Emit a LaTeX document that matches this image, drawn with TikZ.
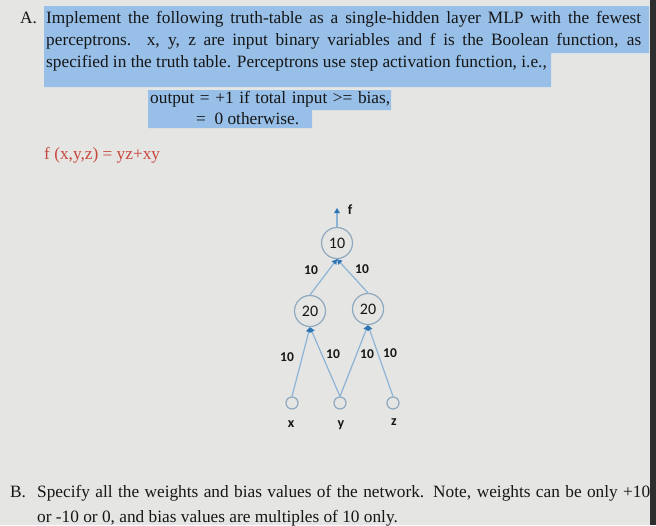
\documentclass[tikz,border=0pt]{standalone}
\usepackage{fontspec}
\setmainfont{Liberation Serif}
\newfontfamily\diagfont{Carlito}
\usetikzlibrary{arrows.meta}
\definecolor{bg}{HTML}{E5E5E3}
\definecolor{hl}{HTML}{97BFE8}
\definecolor{ink}{HTML}{161616}
\definecolor{formula}{HTML}{C8473C}
\definecolor{linecol}{HTML}{8DB3D6}
\definecolor{tipcol}{HTML}{2E75B6}
\definecolor{ringcol}{HTML}{8FA9BF}
\tikzset{
  txt/.style={anchor=base west, inner sep=0pt, text=ink, font=\fontsize{17.3}{20}\selectfont},
  neuron/.style={circle, draw=ringcol, line width=1.2pt, minimum size=31pt, inner sep=0pt, text=ink, font=\diagfont\fontsize{16}{17}\selectfont},
  inpnode/.style={circle, draw=ringcol, line width=1.2pt, minimum size=12pt, inner sep=0pt},
  conn/.style={draw=linecol, line width=1.2pt, -{Triangle[length=5pt,width=5.5pt,color=tipcol]}},
  wlabel/.style={inner sep=0pt, text=ink, font=\diagfont\bfseries\fontsize{13.5}{15}\selectfont},
  vlabel/.style={inner sep=0pt, text=ink, font=\diagfont\bfseries\fontsize{14}{15}\selectfont}
}
\begin{document}
\begin{tikzpicture}[x=1pt,y=-1pt]
\fill[bg] (0,0) rectangle (656,525);
\useasboundingbox (0,0) rectangle (656,525);
\fill[black!82] (650,0) rectangle (656,525);
% highlights
\fill[hl] (44,6) -- (649,6) -- (649,53) -- (551,53) -- (551,87) -- (44,87) -- cycle;
\fill[hl] (148,90) -- (391,90) -- (391,110) -- (312,110) -- (312,128) -- (148,128) -- cycle;
% part A text
\node[txt] (a0) at (20,23) {A.};
\node[txt] (a1) at (46,23) {\makebox[595pt][s]{Implement the following truth-table as a single-hidden layer MLP with the fewest}};
\node[txt] (a2) at (46,45) {\makebox[595pt][s]{perceptrons. x, y, z are input binary variables and f is the Boolean function, as}};
\node[txt] (a3) at (46,67) {specified in the truth table. Perceptrons use step activation function, i.e.,};
\node[txt] (o1) at (150,103) {\makebox[240pt][s]{output = +1 if total input >= bias,}};
\node[txt] (o2) at (196,124) {=\ \ 0 otherwise.};
\node[txt, text=formula] (fx) at (44,159) {f (x,y,z) = yz+xy};
% part B text
\node[txt] (b0) at (10,497) {B.};
\node[txt] (b1) at (37,497) {\makebox[613pt][s]{Specify all the weights and bias values of the network. Note, weights can be only +10}};
\node[txt] (b2) at (37,522) {or -10 or 0, and bias values are multiples of 10 only.};
% network
\node[neuron] (out) at (337,243) {10};
\node[neuron] (h1) at (310,311) {20};
\node[neuron] (h2) at (368,309) {20};
\node[inpnode] (x) at (292,403) {};
\node[inpnode] (y) at (340,403) {};
\node[inpnode] (z) at (393,403) {};
\coordinate (ftip) at (337,208);
\draw[conn] (out.north) -- (ftip);
\draw[conn] (h1.north) -- (out.south);
\draw[conn] (h2.north) -- (out.south);
\draw[conn] (x.north) -- (h1.south);
\draw[conn] (y.north) -- (h1.south);
\draw[conn] (y.north) -- (h2.south);
\draw[conn] (z.north) -- (h2.south);
\node[vlabel] (fl) at (350,210) {f};
\node[wlabel] (w1) at (311,270) {10};
\node[wlabel] (w2) at (362,269) {10};
\node[wlabel] (w3) at (287,357) {10};
\node[wlabel] (w4) at (333,354) {10};
\node[wlabel] (w5) at (367,354) {10};
\node[wlabel] (w6) at (390,353) {10};
\node[vlabel] (lx) at (291,424) {x};
\node[vlabel] (ly) at (341,425) {y};
\node[vlabel] (lz) at (394,422) {z};
\end{tikzpicture}
\end{document}
